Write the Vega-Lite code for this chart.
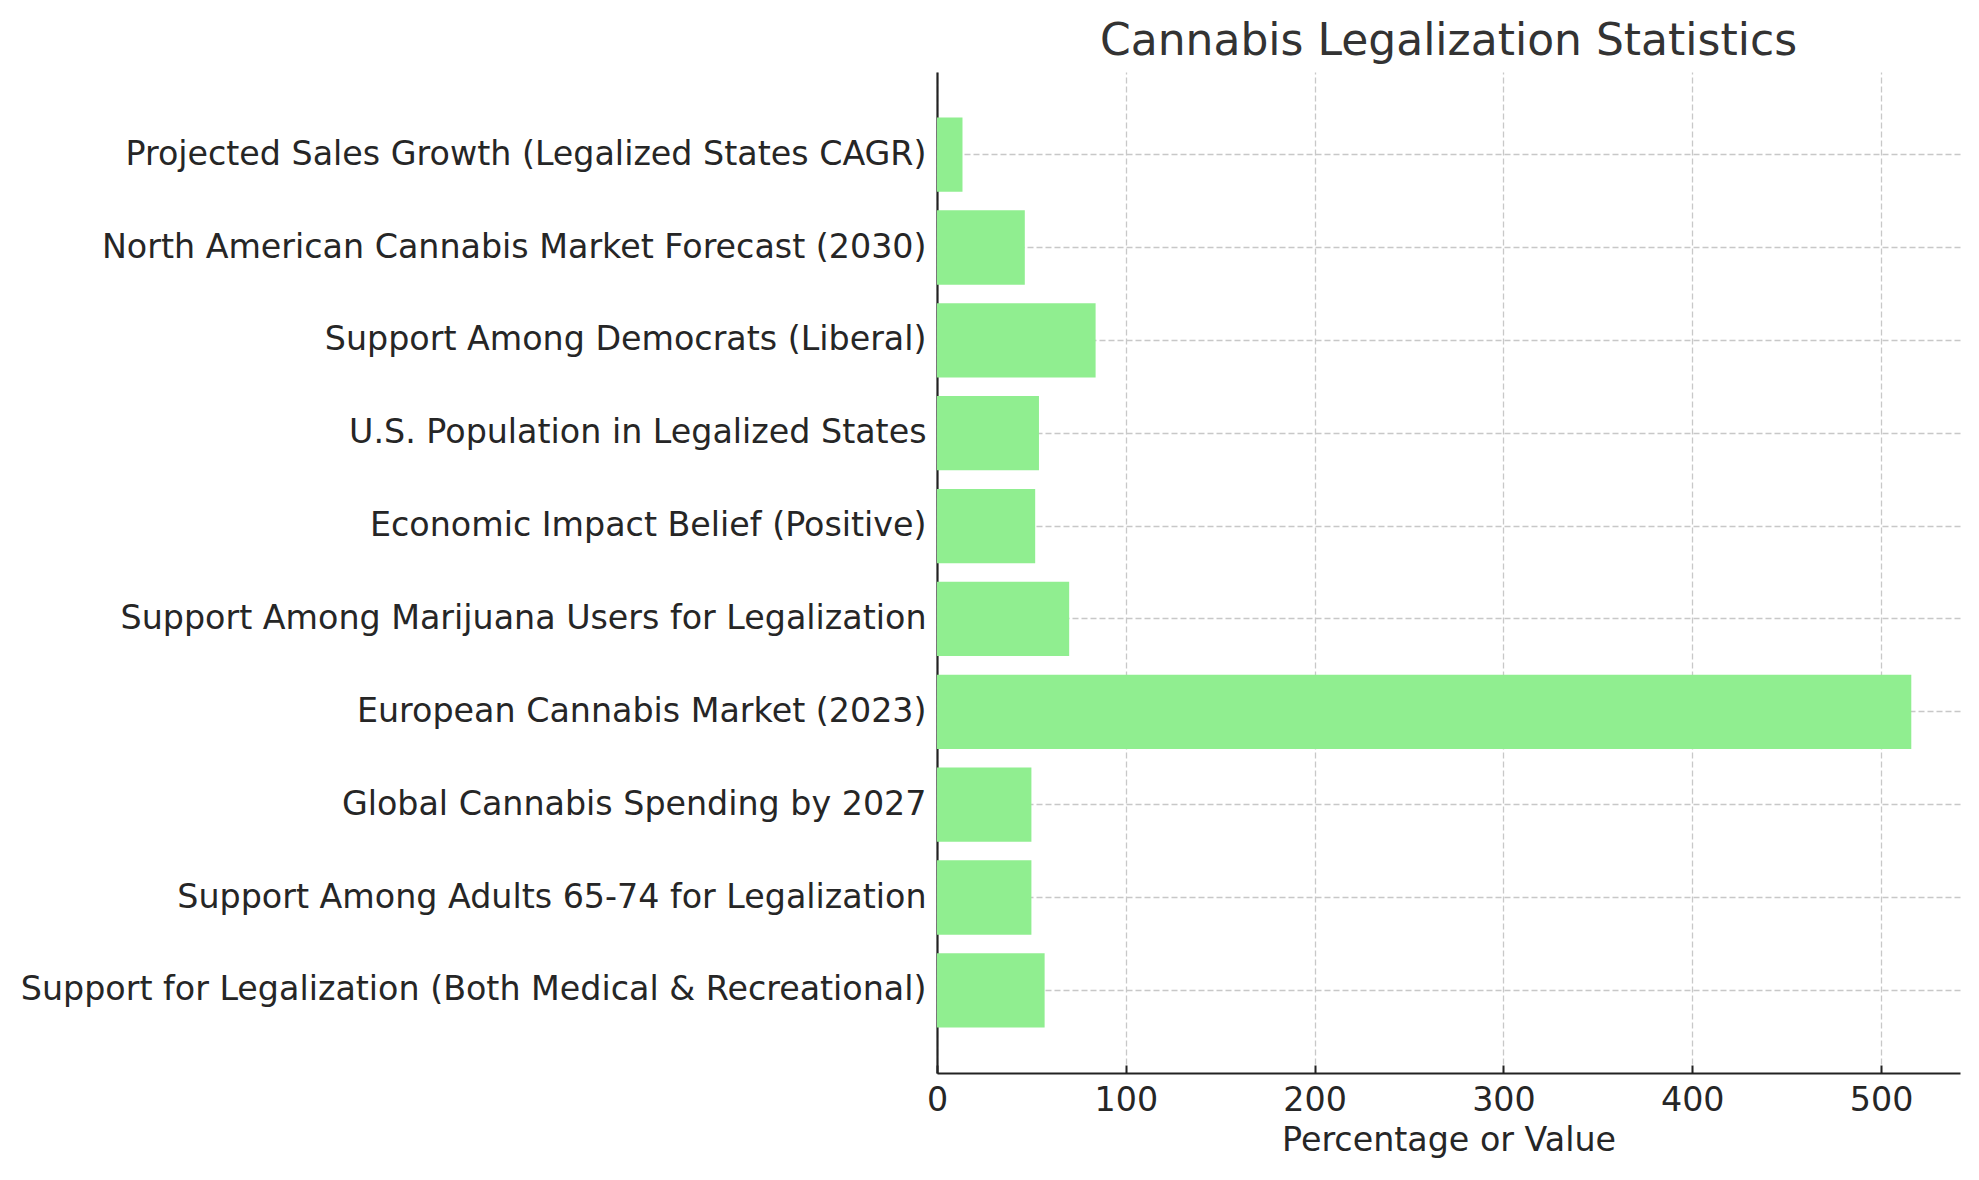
{
  "$schema": "https://vega.github.io/schema/vega-lite/v6.json",
  "width": 1023,
  "height": 1001,
  "autosize": {"type": "none"},
  "padding": {"left": 937, "top": 72, "right": 19, "bottom": 107},
  "background": "white",
  "title": {
    "text": "Cannabis Legalization Statistics",
    "font": "DejaVu Sans",
    "fontSize": 44,
    "fontWeight": "normal",
    "color": "#333333",
    "anchor": "middle",
    "offset": 8
  },
  "data": {
    "values": [
      {"category": "Projected Sales Growth (Legalized States CAGR)", "value": 13.5},
      {"category": "North American Cannabis Market Forecast (2030)", "value": 46.5},
      {"category": "Support Among Democrats (Liberal)", "value": 84},
      {"category": "U.S. Population in Legalized States", "value": 54},
      {"category": "Economic Impact Belief (Positive)", "value": 52},
      {"category": "Support Among Marijuana Users for Legalization", "value": 70},
      {"category": "European Cannabis Market (2023)", "value": 516},
      {"category": "Global Cannabis Spending by 2027", "value": 50},
      {"category": "Support Among Adults 65-74 for Legalization", "value": 50},
      {"category": "Support for Legalization (Both Medical & Recreational)", "value": 57}
    ]
  },
  "config": {
    "view": {"stroke": null},
    "font": "DejaVu Sans",
    "axis": {
      "labelFont": "DejaVu Sans",
      "titleFont": "DejaVu Sans",
      "labelFontSize": 33.3,
      "titleFontSize": 33.3,
      "titleFontWeight": "normal",
      "labelColor": "#262626",
      "titleColor": "#262626",
      "domainColor": "#222222",
      "domainWidth": 2.2,
      "tickColor": "#222222",
      "tickWidth": 2,
      "tickSize": -8,
      "labelPadding": 19,
      "grid": true,
      "gridColor": "#c8c8c8",
      "gridWidth": 1.3,
      "gridDash": [6, 3],
      "zindex": 1
    }
  },
  "mark": {"type": "bar", "color": "#90EE90"},
  "encoding": {
    "y": {
      "field": "category",
      "type": "nominal",
      "sort": null,
      "scale": {"paddingInner": 0.2, "paddingOuter": 0.49},
      "axis": {"title": null, "bandPosition": 0.5, "labelLimit": 0}
    },
    "x": {
      "field": "value",
      "type": "quantitative",
      "scale": {"domain": [0, 541.8], "nice": false, "zero": true},
      "axis": {"title": "Percentage or Value", "values": [0, 100, 200, 300, 400, 500], "titlePadding": 8, "labelFlush": false}
    }
  }
}
